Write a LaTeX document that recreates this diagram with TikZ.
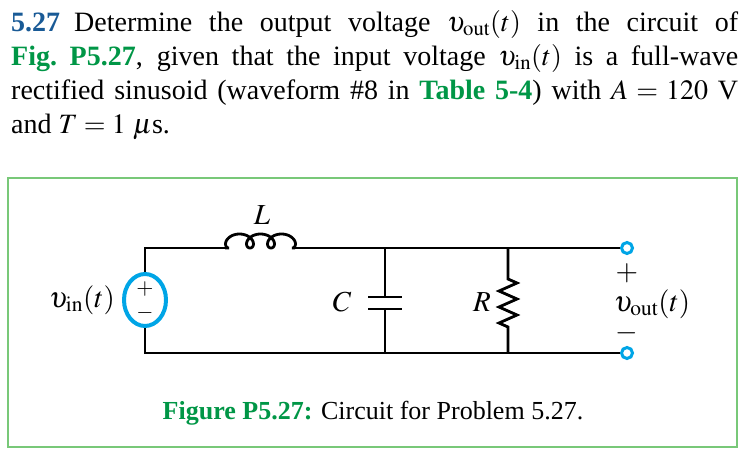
\documentclass[tikz,border=0pt]{standalone}
\usepackage{mathptmx}
\usepackage{fontspec}
\setmainfont{Liberation Serif}
\usetikzlibrary{shapes.geometric}
\definecolor{tgreen}{RGB}{0,150,70}
\definecolor{tblue}{RGB}{25,90,150}
\definecolor{boxg}{RGB}{120,200,120}
\definecolor{cyanb}{RGB}{0,165,230}
\tikzset{wire/.style={line width=2.8pt},
 term/.style={circle,draw=cyanb,line width=3pt,fill=white,inner sep=0pt,minimum size=11pt},
 lab/.style={inner sep=1pt,font=\fontsize{29}{32}\selectfont},
 sgn/.style={inner sep=0pt,font=\fontsize{22}{24}\selectfont}}
\begin{document}
\begin{tikzpicture}[x=1pt,y=-1pt]
\useasboundingbox (0,0) rectangle (742,463);
\node[anchor=north west,inner sep=0pt,text width=727pt,align=justify,font=\fontsize{28}{34}\selectfont] (q) at (11,10)
{\textcolor{tblue}{\textbf{5.27}}\enspace Determine the output voltage $\upsilon_{\mathrm{out}}(t)$ in the circuit of\linebreak \textcolor{tgreen}{\textbf{Fig.\ P5.27}}, given that the input voltage $\upsilon_{\mathrm{in}}(t)$ is a full-wave\linebreak rectified sinusoid (waveform \#8 in \textcolor{tgreen}{\textbf{Table 5-4}}) with $A=120$~V\linebreak and $T=1$~$\mu$s.};
\draw[boxg,line width=1.5pt] (8,178) rectangle (737,447);
% nodes
\coordinate (tl) at (145,248); \coordinate (bl) at (145,353);
\coordinate (l1) at (225,248); \coordinate (l2) at (295,248);
\coordinate (ct) at (385,248); \coordinate (cb) at (385,353);
\coordinate (rt) at (508,248); \coordinate (rb) at (508,353);
\node[term] (o1) at (627,248) {};
\node[term] (o2) at (627,353) {};
\node[draw=cyanb,line width=4pt,ellipse,minimum width=42pt,minimum height=52pt,inner sep=0pt] (src) at (145,300) {};
\draw[wire] (src.south) -- (bl) -- (cb) -- (rb) -- (o2.west);
\draw[wire] (src.north) -- (tl) -- (l1);
\draw[wire] (l1) -- ++(4,0) plot[domain=0:1080,samples=150,smooth] ({229+\x/360*21-8*sin(\x)},{248-7*(1-cos(\x))}) -- (l2);
\draw[wire] (l2) -- (ct) -- (rt) -- (o1.west);
% capacitor
\draw[wire] (ct) -- (385,297) (385,309) -- (cb);
\draw[wire] (368,297) -- (402,297) (368,309) -- (402,309);
% resistor
\draw[wire] (rt) -- (508,279) -- (517,283) -- (499,291) -- (517,299) -- (499,307) -- (517,315) -- (499,323) -- (508,327) -- (rb);
% labels
\node[sgn] at (145,289) {$+$};
\node[sgn] at (145,313) {$-$};
\node[lab] (vin) at (82,300) {$\upsilon_{\mathrm{in}}(t)$};
\node[lab] (Ll) at (262,215) {$L$};
\node[lab] (Cl) at (342,302) {$C$};
\node[lab] (Rl) at (482,302) {$R$};
\node[lab] at (627,273) {$+$};
\node[lab] (vout) at (652,304) {$\upsilon_{\mathrm{out}}(t)$};
\node[lab] at (627,333) {$-$};
\node[font=\fontsize{26}{28}\selectfont] (cap) at (373,413) {\textcolor{tgreen}{\textbf{Figure P5.27:}} Circuit for Problem 5.27.};
\end{tikzpicture}
\end{document}
